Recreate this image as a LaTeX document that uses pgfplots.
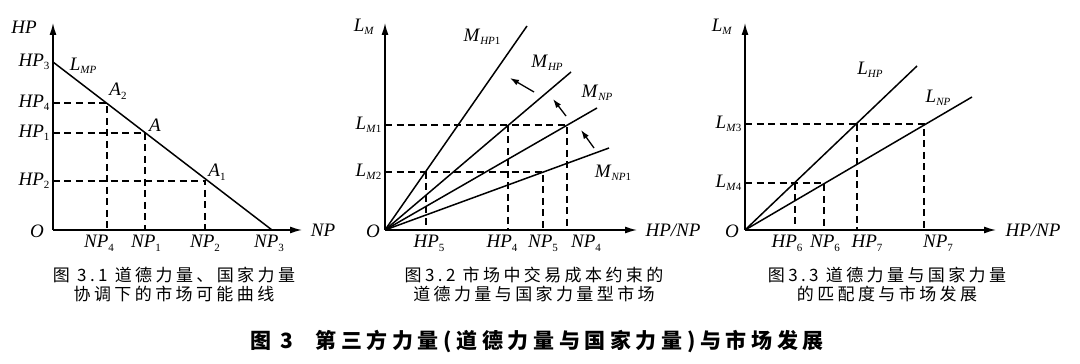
\documentclass[border=0pt]{standalone}
\usepackage{pgfplots}
\pgfplotsset{compat=1.18}
\usetikzlibrary{arrows.meta}
\usepackage{fontspec}
\setmainfont{Liberation Serif}
\newfontfamily\cjk{Noto Sans CJK SC}[LetterSpace=20]
\newfontfamily\cjkt{Noto Sans CJK SC}[LetterSpace=22]
\newcommand{\lf}{\fontsize{19}{22}\selectfont}
\newcommand{\sub}[1]{\raisebox{-0.4ex}{\fontsize{11}{11}\selectfont #1}}
\newcommand{\lb}[2]{\textit{#1}\sub{#2}}
\pgfplotsset{
  myax/.style={
    x=1pt, y=1pt, xmin=0, ymin=0,
    axis lines=left, enlargelimits=false, clip=false,
    axis line style={line width=1.4pt, -{Latex[length=12pt,width=7pt]}},
    every outer x axis line/.append style={-{Latex[length=12pt,width=7pt]}},
    every outer y axis line/.append style={-{Latex[length=12pt,width=7pt]}},
    major tick length=0pt,
    tick label style={font=\lf},
    xticklabel style={anchor=north, yshift=-2pt},
    yticklabel style={anchor=east, xshift=0pt},
    anchor=south west,
  },
  sl/.style={black, solid, line width=1.5pt, mark=none},
  dsh/.style={black, line width=1.4pt, dash pattern=on 7pt off 4.5pt, mark=none},
  arr/.style={black, line width=1.3pt, mark=none, -{Latex[length=9pt,width=6pt]}},
}
\begin{document}
\begin{tikzpicture}
\useasboundingbox (0,0) rectangle (1080pt,364pt);
% Panel 1
\begin{axis}[myax, at={(53pt,134pt)}, xmax=249, ymax=207,
  xtick={46,93,152,216}, xticklabels={\lb{NP}{4},\lb{NP}{1},\lb{NP}{2},\lb{NP}{3}},
  ytick={168,127,97,49}, yticklabels={\lb{HP}{3},\lb{HP}{4},\lb{HP}{1},\lb{HP}{2}}]
\addplot[sl] coordinates {(0,168) (219,0)};
\addplot[dsh] coordinates {(0,127) (54,127) (54,0)};
\addplot[dsh] coordinates {(0,97) (92,97) (92,0)};
\addplot[dsh] coordinates {(0,49) (152,49) (152,0)};
\node[font=\lf] at (axis cs:30,164) {\lb{L}{\textit{MP}}};
\node[font=\lf] at (axis cs:65,139) {\lb{A}{2}};
\node[font=\lf] at (axis cs:102,105) {\textit{A}};
\node[font=\lf] at (axis cs:164,58) {\lb{A}{1}};
\node[font=\lf] at (axis cs:-16,-1) {\textit{O}};
\node[font=\lf] at (axis cs:-29,203) {\textit{HP}};
\node[font=\lf] at (axis cs:270,0) {\textit{NP}};
\end{axis}
% Panel 2
\begin{axis}[myax, at={(385pt,134pt)}, xmax=252, ymax=207,
  xtick={44,117,158,201}, xticklabels={\lb{HP}{5},\lb{HP}{4},\lb{NP}{5},\lb{NP}{4}},
  ytick={105,58}, yticklabels={\lb{L}{\textit{M}1},\lb{L}{\textit{M}2}}]
\addplot[sl] coordinates {(0,0) (142,204)};
\addplot[sl] coordinates {(0,0) (186,158)};
\addplot[sl] coordinates {(0,0) (212,122)};
\addplot[sl] coordinates {(0,0) (224,82)};
\addplot[dsh] coordinates {(0,105) (182,105) (182,0)};
\addplot[dsh] coordinates {(123,105) (123,0)};
\addplot[dsh] coordinates {(0,58) (158,58) (158,0)};
\addplot[dsh] coordinates {(41,58) (41,0)};
\addplot[arr] coordinates {(149,138) (125,152)};
\addplot[arr] coordinates {(181,114) (168,131)};
\addplot[arr] coordinates {(209,82) (196,100)};
\node[font=\lf] at (axis cs:97,193) {\lb{M}{\textit{HP}1}};
\node[font=\lf] at (axis cs:162,167) {\lb{M}{\textit{HP}}};
\node[font=\lf] at (axis cs:212,137) {\lb{M}{\textit{NP}}};
\node[font=\lf] at (axis cs:228,57) {\lb{M}{\textit{NP}1}};
\node[font=\lf] at (axis cs:-12,-1) {\textit{O}};
\node[font=\lf] at (axis cs:-21,203) {\lb{L}{\textit{M}}};
\node[font=\lf] at (axis cs:288,0) {\textit{HP/NP}};
\end{axis}
% Panel 3
\begin{axis}[myax, at={(745pt,134pt)}, xmax=251, ymax=207,
  xtick={42,80,122,193}, xticklabels={\lb{HP}{6},\lb{NP}{6},\lb{HP}{7},\lb{NP}{7}},
  ytick={106,47}, yticklabels={\lb{L}{\textit{M}3},\lb{L}{\textit{M}4}}]
\addplot[sl] coordinates {(0,0) (172,164)};
\addplot[sl] coordinates {(0,0) (227,133)};
\addplot[dsh] coordinates {(0,106) (179,106) (179,0)};
\addplot[dsh] coordinates {(112,106) (112,0)};
\addplot[dsh] coordinates {(0,47) (79,47) (79,0)};
\addplot[dsh] coordinates {(50,47) (50,0)};
\node[font=\lf] at (axis cs:125,160) {\lb{L}{\textit{HP}}};
\node[font=\lf] at (axis cs:193,132) {\lb{L}{\textit{NP}}};
\node[font=\lf] at (axis cs:-13,-1) {\textit{O}};
\node[font=\lf] at (axis cs:-23,203) {\lb{L}{\textit{M}}};
\node[font=\lf] at (axis cs:288,0) {\textit{HP/NP}};
\end{axis}
% captions
\node[align=center, font={\cjk\fontsize{17}{19}\selectfont}] at (174pt,79.5pt) {图 3.1 道德力量、国家力量\\协调下的市场可能曲线};
\node[align=center, font={\cjk\fontsize{17}{19}\selectfont}] at (534pt,79.5pt) {图3.2 市场中交易成本约束的\\道德力量与国家力量型市场};
\node[align=center, font={\cjk\fontsize{17}{19}\selectfont}] at (887pt,79.5pt) {图3.3 道德力量与国家力量\\的匹配度与市场发展};
\node[font={\cjkt\bfseries\fontsize{21}{23}\selectfont}] at (537pt,23pt) {图 3\hspace{22pt}第三方力量(道德力量与国家力量)与市场发展};
\end{tikzpicture}
\end{document}
